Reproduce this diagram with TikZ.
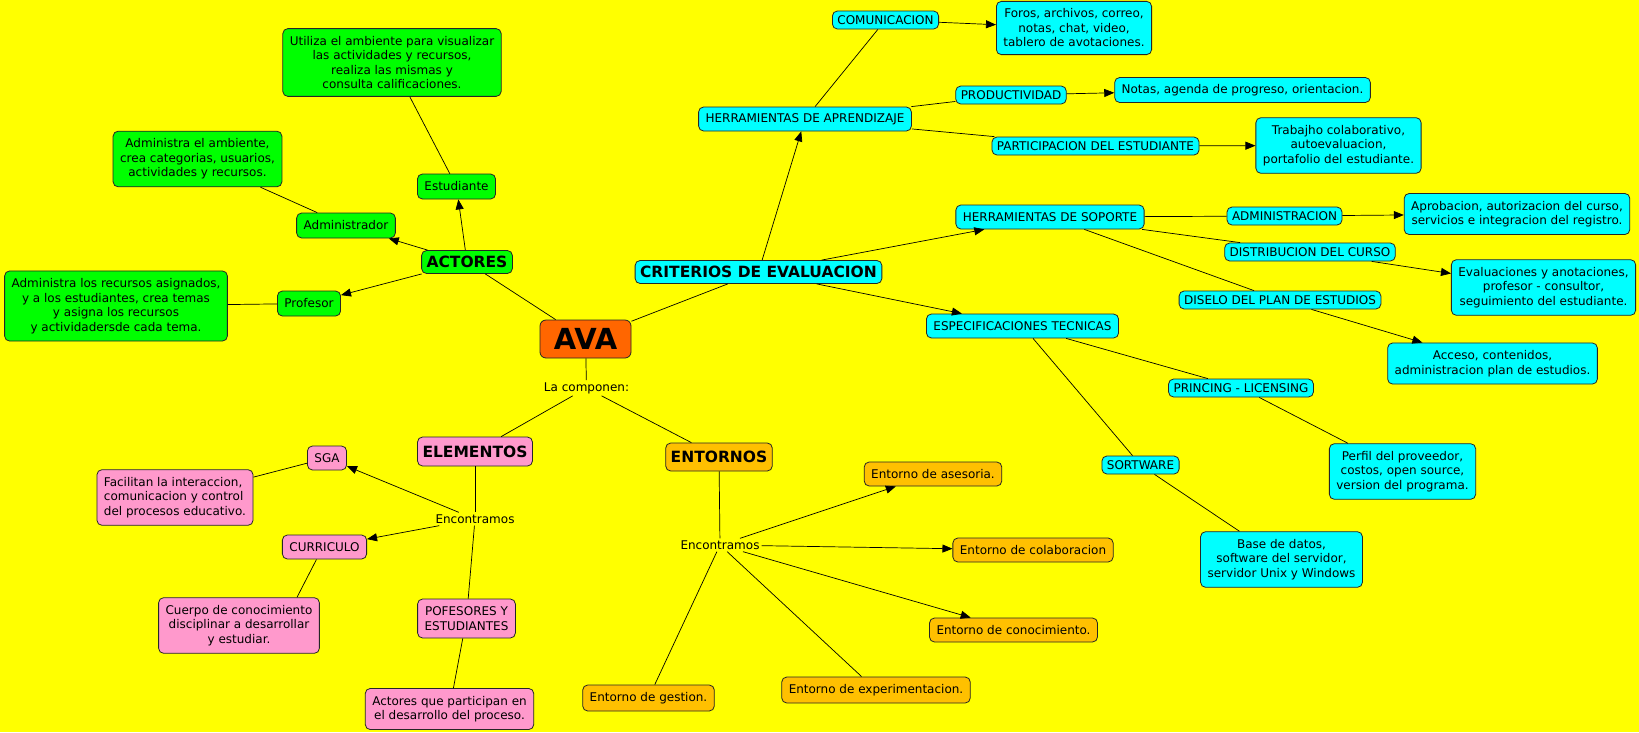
\documentclass[tikz,border=0pt]{standalone}
\usepackage{fontspec}
\setmainfont{DejaVu Sans}
\usetikzlibrary{arrows.meta}
\definecolor{mapyellow}{RGB}{255,255,0}
\definecolor{mapgreen}{RGB}{0,255,0}
\definecolor{mapcyan}{RGB}{0,255,255}
\definecolor{mappink}{RGB}{255,153,204}
\definecolor{mapgold}{RGB}{255,192,0}
\definecolor{maporange}{RGB}{255,102,0}

\tikzset{
  cmbox/.style={draw=black!85, line width=0.8pt, rounded corners=5pt, align=center,
    font=\fontsize{12}{14.5}\selectfont, inner xsep=7pt, inner ysep=7.5pt, minimum height=25pt},
  cmtag/.style={cmbox, inner xsep=5pt, inner ysep=4pt, minimum height=18pt},
  cmtitle/.style={cmbox, font=\fontsize{15.5}{18}\selectfont\bfseries, inner xsep=5pt,
    inner ysep=3pt, minimum height=23pt},
  cmtext/.style={font=\fontsize{12}{14.5}\selectfont, inner sep=2pt},
  cmline/.style={line width=0.7pt},
  cmarrow/.style={cmline, -{Triangle[length=10pt,width=8pt]}},
}

\begin{document}
\begin{tikzpicture}[x=1pt,y=-1pt]
  \fill[mapyellow] (0,0) rectangle (1639,732);
  \useasboundingbox (0,0) rectangle (1639,732);

  \node[draw=black!85, line width=0.8pt, rounded corners=6pt, fill=maporange,
    minimum width=91pt, minimum height=38pt, inner sep=0pt,
    font=\fontsize{29}{30}\selectfont\bfseries] (ava) at (585.5,339) {AVA};
  \node[cmtext] (compo) at (586.5,388) {La componen:};

  \node[cmtitle, fill=mapgreen] (actores) at (467,262) {ACTORES};
  \node[cmbox, fill=mapgreen] (estud) at (456.5,186.5) {Estudiante};
  \node[cmbox, fill=mapgreen] (admin) at (346,225.5) {Administrador};
  \node[cmbox, fill=mapgreen] (profesor) at (309,303.5) {Profesor};
  \node[cmbox, fill=mapgreen] (util) at (392,62.5)
    {Utiliza el ambiente para visualizar\\las actividades y recursos,\\realiza las mismas y\\consulta calificaciones.};
  \node[cmbox, fill=mapgreen] (admdesc) at (197.5,159)
    {Administra el ambiente,\\crea categorias, usuarios,\\actividades y recursos.};
  \node[cmbox, fill=mapgreen] (profdesc) at (116,306)
    {Administra los recursos asignados,\\y a los estudiantes, crea temas\\y asigna los recursos\\y actividadersde cada tema.};

  \node[cmtitle, fill=mapcyan] (crit) at (758.5,272) {CRITERIOS DE EVALUACION};
  \node[cmbox, fill=mapcyan, inner ysep=6pt, minimum height=24pt] (herrA) at (805,119) {HERRAMIENTAS DE APRENDIZAJE};
  \node[cmtag, fill=mapcyan] (comm) at (885.5,20) {COMUNICACION};
  \node[cmtag, fill=mapcyan] (prod) at (1011,95) {PRODUCTIVIDAD};
  \node[cmtag, fill=mapcyan] (part) at (1095.5,146) {PARTICIPACION DEL ESTUDIANTE};
  \node[cmbox, fill=mapcyan] (foros) at (1074,28) {Foros, archivos, correo,\\notas, chat, video,\\tablero de avotaciones.};
  \node[cmbox, fill=mapcyan, inner ysep=6pt] (notas) at (1242.5,90) {Notas, agenda de progreso, orientacion.};
  \node[cmbox, fill=mapcyan] (trab) at (1338.5,145.5) {Trabajho colaborativo,\\autoevaluacion,\\portafolio del estudiante.};
  \node[cmbox, fill=mapcyan, inner ysep=6pt, minimum height=24pt] (herrS) at (1050,217) {HERRAMIENTAS DE SOPORTE};
  \node[cmtag, fill=mapcyan] (adm) at (1284.5,216) {ADMINISTRACION};
  \node[cmtag, fill=mapcyan] (dist) at (1310,252) {DISTRIBUCION DEL CURSO};
  \node[cmtag, fill=mapcyan] (disel) at (1280,300) {DISELO DEL PLAN DE ESTUDIOS};
  \node[cmbox, fill=mapcyan] (aprob) at (1517,214) {Aprobacion, autorizacion del curso,\\servicios e integracion del registro.};
  \node[cmbox, fill=mapcyan] (eval) at (1543.5,287.5) {Evaluaciones y anotaciones,\\profesor - consultor,\\seguimiento del estudiante.};
  \node[cmbox, fill=mapcyan] (acceso) at (1492.5,363.5) {Acceso, contenidos,\\administracion plan de estudios.};
  \node[cmbox, fill=mapcyan, inner ysep=6pt, minimum height=24pt] (espec) at (1022.5,326) {ESPECIFICACIONES TECNICAS};
  \node[cmtag, fill=mapcyan] (princ) at (1241,388) {PRINCING - LICENSING};
  \node[cmtag, fill=mapcyan] (sortw) at (1140.5,465) {SORTWARE};
  \node[cmbox, fill=mapcyan] (perfil) at (1402.5,471.5) {Perfil del proveedor,\\costos, open source,\\version del programa.};
  \node[cmbox, fill=mapcyan] (base) at (1281.5,559.5) {Base de datos,\\software del servidor,\\servidor Unix y Windows};

  \node[cmtitle, fill=mappink, minimum height=29pt] (elem) at (475,451.5) {ELEMENTOS};
  \node[cmtext] (encE) at (475,519) {Encontramos};
  \node[cmbox, fill=mappink, inner ysep=6pt, minimum height=24pt] (sga) at (327,458) {SGA};
  \node[cmbox, fill=mappink, inner ysep=6pt, minimum height=24pt] (curr) at (324.5,547) {CURRICULO};
  \node[cmbox, fill=mappink, inner ysep=6pt, minimum height=39pt] (pofe) at (466.5,618.5) {POFESORES Y\\ESTUDIANTES};
  \node[cmbox, fill=mappink, align=left] (facil) at (175,497.5) {Facilitan la interaccion,\\comunicacion y control\\del procesos educativo.};
  \node[cmbox, fill=mappink] (cuerpo) at (239,625.5) {Cuerpo de conocimiento\\disciplinar a desarrollar\\y estudiar.};
  \node[cmbox, fill=mappink] (actq) at (449.5,709) {Actores que participan en\\el desarrollo del proceso.};

  \node[cmtitle, fill=mapgold, minimum height=28pt] (ent) at (719,457) {ENTORNOS};
  \node[cmtext] (encN) at (720,545) {Encontramos};
  \node[cmbox, fill=mapgold, inner ysep=6pt, minimum height=24pt] (ase) at (933,474) {Entorno de asesoria.};
  \node[cmbox, fill=mapgold, inner ysep=6pt, minimum height=24pt] (col) at (1033,550) {Entorno de colaboracion};
  \node[cmbox, fill=mapgold, inner ysep=6pt, minimum height=24pt] (con) at (1013.5,630) {Entorno de conocimiento.};
  \node[cmbox, fill=mapgold, inner ysep=6pt, minimum height=26pt] (exp) at (876,690) {Entorno de experimentacion.};
  \node[cmbox, fill=mapgold, inner ysep=6pt, minimum height=26pt] (gest) at (648.5,698) {Entorno de gestion.};

  \draw[cmline] (actores) -- (ava);
  \draw[cmarrow] (actores) -- (estud);
  \draw[cmarrow] (actores) -- (admin);
  \draw[cmarrow] (actores) -- (profesor);
  \draw[cmline] (estud) -- (util);
  \draw[cmline] (admin) -- (admdesc);
  \draw[cmline] (profesor) -- (profdesc);

  \draw[cmline] (ava) -- (crit);
  \draw[cmarrow] (crit) -- (herrA);
  \draw[cmarrow] (crit) -- (herrS);
  \draw[cmarrow] (crit) -- (espec);
  \draw[cmline] (herrA) -- (comm);
  \draw[cmline] (herrA) -- (prod);
  \draw[cmline] (herrA) -- (part);
  \draw[cmarrow] (comm) -- (foros);
  \draw[cmarrow] (prod) -- (notas);
  \draw[cmarrow] (part) -- (trab);
  \draw[cmline] (herrS) -- (adm);
  \draw[cmline] (herrS) -- (dist);
  \draw[cmline] (herrS) -- (disel);
  \draw[cmarrow] (adm) -- (aprob);
  \draw[cmarrow] (dist) -- (eval);
  \draw[cmarrow] (disel) -- (acceso);
  \draw[cmline] (espec) -- (princ);
  \draw[cmline] (espec) -- (sortw);
  \draw[cmline] (princ) -- (perfil);
  \draw[cmline] (sortw) -- (base);

  \draw[cmline] (ava) -- (compo);
  \draw[cmline] (compo) -- (elem);
  \draw[cmline] (compo) -- (ent);

  \draw[cmline] (elem) -- (encE);
  \draw[cmarrow] (encE) -- (sga);
  \draw[cmarrow] (encE) -- (curr);
  \draw[cmline] (encE) -- (pofe);
  \draw[cmline] (sga) -- (facil);
  \draw[cmline] ([xshift=-8pt]curr.south) -- ([xshift=58pt]cuerpo.north);
  \draw[cmline] (pofe) -- (actq);

  \draw[cmline] (ent) -- (encN);
  \draw[cmarrow] (encN) -- (ase);
  \draw[cmarrow] (encN) -- (col);
  \draw[cmarrow] (encN) -- (con);
  \draw[cmline] (encN) -- (exp);
  \draw[cmline] (encN) -- (gest);
\end{tikzpicture}
\end{document}
